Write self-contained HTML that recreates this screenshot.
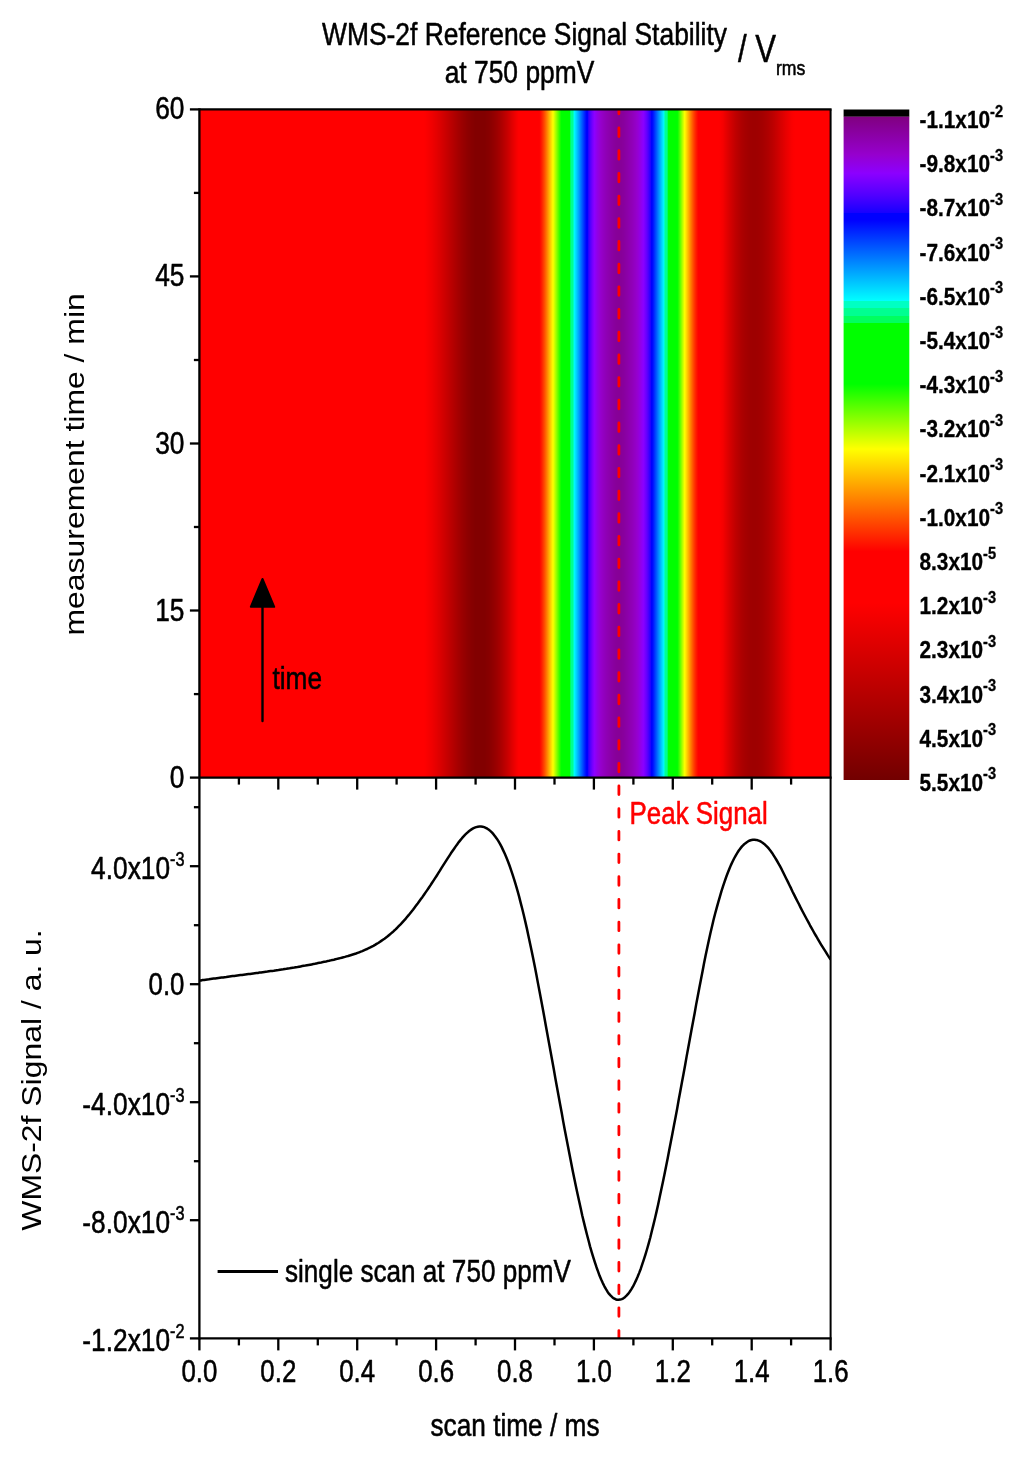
<!DOCTYPE html>
<html><head><meta charset="utf-8"><title>WMS-2f Reference Signal Stability</title>
<style>html,body{margin:0;padding:0;background:#fff}svg{display:block}</style></head>
<body>
<svg width="1024" height="1458" viewBox="0 0 1024 1458">
<defs>
<linearGradient id="hm" gradientUnits="userSpaceOnUse" x1="199.4" y1="0" x2="830.6" y2="0">
<stop offset="0.0000" stop-color="#ff0000"/>
<stop offset="0.0016" stop-color="#ff0000"/>
<stop offset="0.0032" stop-color="#ff0000"/>
<stop offset="0.0048" stop-color="#ff0000"/>
<stop offset="0.0063" stop-color="#ff0000"/>
<stop offset="0.0079" stop-color="#ff0000"/>
<stop offset="0.0095" stop-color="#ff0000"/>
<stop offset="0.0111" stop-color="#ff0000"/>
<stop offset="0.0127" stop-color="#ff0000"/>
<stop offset="0.0143" stop-color="#ff0000"/>
<stop offset="0.0158" stop-color="#ff0000"/>
<stop offset="0.0174" stop-color="#ff0000"/>
<stop offset="0.0190" stop-color="#ff0000"/>
<stop offset="0.0206" stop-color="#ff0000"/>
<stop offset="0.0222" stop-color="#ff0000"/>
<stop offset="0.0238" stop-color="#ff0000"/>
<stop offset="0.0254" stop-color="#ff0000"/>
<stop offset="0.0269" stop-color="#ff0000"/>
<stop offset="0.0285" stop-color="#ff0000"/>
<stop offset="0.0301" stop-color="#ff0000"/>
<stop offset="0.0317" stop-color="#ff0000"/>
<stop offset="0.0333" stop-color="#ff0000"/>
<stop offset="0.0349" stop-color="#ff0000"/>
<stop offset="0.0365" stop-color="#ff0000"/>
<stop offset="0.0380" stop-color="#ff0000"/>
<stop offset="0.0396" stop-color="#ff0000"/>
<stop offset="0.0412" stop-color="#ff0000"/>
<stop offset="0.0428" stop-color="#ff0000"/>
<stop offset="0.0444" stop-color="#ff0000"/>
<stop offset="0.0460" stop-color="#ff0000"/>
<stop offset="0.0475" stop-color="#ff0000"/>
<stop offset="0.0491" stop-color="#ff0000"/>
<stop offset="0.0507" stop-color="#ff0000"/>
<stop offset="0.0523" stop-color="#ff0000"/>
<stop offset="0.0539" stop-color="#ff0000"/>
<stop offset="0.0555" stop-color="#ff0000"/>
<stop offset="0.0571" stop-color="#ff0000"/>
<stop offset="0.0586" stop-color="#ff0000"/>
<stop offset="0.0602" stop-color="#ff0000"/>
<stop offset="0.0618" stop-color="#ff0000"/>
<stop offset="0.0634" stop-color="#ff0000"/>
<stop offset="0.0650" stop-color="#ff0000"/>
<stop offset="0.0666" stop-color="#ff0000"/>
<stop offset="0.0681" stop-color="#ff0000"/>
<stop offset="0.0697" stop-color="#ff0000"/>
<stop offset="0.0713" stop-color="#ff0000"/>
<stop offset="0.0729" stop-color="#ff0000"/>
<stop offset="0.0745" stop-color="#ff0000"/>
<stop offset="0.0761" stop-color="#ff0000"/>
<stop offset="0.0777" stop-color="#ff0000"/>
<stop offset="0.0792" stop-color="#ff0000"/>
<stop offset="0.0808" stop-color="#ff0000"/>
<stop offset="0.0824" stop-color="#ff0000"/>
<stop offset="0.0840" stop-color="#ff0000"/>
<stop offset="0.0856" stop-color="#ff0000"/>
<stop offset="0.0872" stop-color="#ff0000"/>
<stop offset="0.0887" stop-color="#ff0000"/>
<stop offset="0.0903" stop-color="#ff0000"/>
<stop offset="0.0919" stop-color="#ff0000"/>
<stop offset="0.0935" stop-color="#ff0000"/>
<stop offset="0.0951" stop-color="#ff0000"/>
<stop offset="0.0967" stop-color="#ff0000"/>
<stop offset="0.0983" stop-color="#ff0000"/>
<stop offset="0.0998" stop-color="#ff0000"/>
<stop offset="0.1014" stop-color="#ff0000"/>
<stop offset="0.1030" stop-color="#ff0000"/>
<stop offset="0.1046" stop-color="#ff0000"/>
<stop offset="0.1062" stop-color="#ff0000"/>
<stop offset="0.1078" stop-color="#ff0000"/>
<stop offset="0.1094" stop-color="#ff0000"/>
<stop offset="0.1109" stop-color="#ff0000"/>
<stop offset="0.1125" stop-color="#ff0000"/>
<stop offset="0.1141" stop-color="#ff0000"/>
<stop offset="0.1157" stop-color="#ff0000"/>
<stop offset="0.1173" stop-color="#ff0000"/>
<stop offset="0.1189" stop-color="#ff0000"/>
<stop offset="0.1204" stop-color="#ff0000"/>
<stop offset="0.1220" stop-color="#ff0000"/>
<stop offset="0.1236" stop-color="#ff0000"/>
<stop offset="0.1252" stop-color="#ff0000"/>
<stop offset="0.1268" stop-color="#ff0000"/>
<stop offset="0.1284" stop-color="#ff0000"/>
<stop offset="0.1300" stop-color="#ff0000"/>
<stop offset="0.1315" stop-color="#ff0000"/>
<stop offset="0.1331" stop-color="#ff0000"/>
<stop offset="0.1347" stop-color="#ff0000"/>
<stop offset="0.1363" stop-color="#ff0000"/>
<stop offset="0.1379" stop-color="#ff0000"/>
<stop offset="0.1395" stop-color="#ff0000"/>
<stop offset="0.1410" stop-color="#ff0000"/>
<stop offset="0.1426" stop-color="#ff0000"/>
<stop offset="0.1442" stop-color="#ff0000"/>
<stop offset="0.1458" stop-color="#ff0000"/>
<stop offset="0.1474" stop-color="#ff0000"/>
<stop offset="0.1490" stop-color="#ff0000"/>
<stop offset="0.1506" stop-color="#ff0000"/>
<stop offset="0.1521" stop-color="#ff0000"/>
<stop offset="0.1537" stop-color="#ff0000"/>
<stop offset="0.1553" stop-color="#ff0000"/>
<stop offset="0.1569" stop-color="#ff0000"/>
<stop offset="0.1585" stop-color="#ff0000"/>
<stop offset="0.1601" stop-color="#ff0000"/>
<stop offset="0.1616" stop-color="#ff0000"/>
<stop offset="0.1632" stop-color="#ff0000"/>
<stop offset="0.1648" stop-color="#ff0000"/>
<stop offset="0.1664" stop-color="#ff0000"/>
<stop offset="0.1680" stop-color="#ff0000"/>
<stop offset="0.1696" stop-color="#ff0000"/>
<stop offset="0.1712" stop-color="#ff0000"/>
<stop offset="0.1727" stop-color="#ff0000"/>
<stop offset="0.1743" stop-color="#ff0000"/>
<stop offset="0.1759" stop-color="#ff0000"/>
<stop offset="0.1775" stop-color="#ff0000"/>
<stop offset="0.1791" stop-color="#ff0000"/>
<stop offset="0.1807" stop-color="#ff0000"/>
<stop offset="0.1823" stop-color="#ff0000"/>
<stop offset="0.1838" stop-color="#ff0000"/>
<stop offset="0.1854" stop-color="#ff0000"/>
<stop offset="0.1870" stop-color="#ff0000"/>
<stop offset="0.1886" stop-color="#ff0000"/>
<stop offset="0.1902" stop-color="#ff0000"/>
<stop offset="0.1918" stop-color="#ff0000"/>
<stop offset="0.1933" stop-color="#ff0000"/>
<stop offset="0.1949" stop-color="#ff0000"/>
<stop offset="0.1965" stop-color="#ff0000"/>
<stop offset="0.1981" stop-color="#ff0000"/>
<stop offset="0.1997" stop-color="#ff0000"/>
<stop offset="0.2013" stop-color="#ff0000"/>
<stop offset="0.2029" stop-color="#ff0000"/>
<stop offset="0.2044" stop-color="#ff0000"/>
<stop offset="0.2060" stop-color="#ff0000"/>
<stop offset="0.2076" stop-color="#ff0000"/>
<stop offset="0.2092" stop-color="#ff0000"/>
<stop offset="0.2108" stop-color="#ff0000"/>
<stop offset="0.2124" stop-color="#ff0000"/>
<stop offset="0.2139" stop-color="#ff0000"/>
<stop offset="0.2155" stop-color="#ff0000"/>
<stop offset="0.2171" stop-color="#ff0000"/>
<stop offset="0.2187" stop-color="#ff0000"/>
<stop offset="0.2203" stop-color="#ff0000"/>
<stop offset="0.2219" stop-color="#ff0000"/>
<stop offset="0.2235" stop-color="#ff0000"/>
<stop offset="0.2250" stop-color="#ff0000"/>
<stop offset="0.2266" stop-color="#ff0000"/>
<stop offset="0.2282" stop-color="#ff0000"/>
<stop offset="0.2298" stop-color="#ff0000"/>
<stop offset="0.2314" stop-color="#ff0000"/>
<stop offset="0.2330" stop-color="#ff0000"/>
<stop offset="0.2345" stop-color="#ff0000"/>
<stop offset="0.2361" stop-color="#ff0000"/>
<stop offset="0.2377" stop-color="#ff0000"/>
<stop offset="0.2393" stop-color="#ff0000"/>
<stop offset="0.2409" stop-color="#ff0000"/>
<stop offset="0.2425" stop-color="#ff0000"/>
<stop offset="0.2441" stop-color="#ff0000"/>
<stop offset="0.2456" stop-color="#ff0000"/>
<stop offset="0.2472" stop-color="#ff0000"/>
<stop offset="0.2488" stop-color="#ff0000"/>
<stop offset="0.2504" stop-color="#ff0000"/>
<stop offset="0.2520" stop-color="#ff0000"/>
<stop offset="0.2536" stop-color="#ff0000"/>
<stop offset="0.2552" stop-color="#ff0000"/>
<stop offset="0.2567" stop-color="#ff0000"/>
<stop offset="0.2583" stop-color="#ff0000"/>
<stop offset="0.2599" stop-color="#ff0000"/>
<stop offset="0.2615" stop-color="#ff0000"/>
<stop offset="0.2631" stop-color="#ff0000"/>
<stop offset="0.2647" stop-color="#ff0000"/>
<stop offset="0.2662" stop-color="#ff0000"/>
<stop offset="0.2678" stop-color="#ff0000"/>
<stop offset="0.2694" stop-color="#ff0000"/>
<stop offset="0.2710" stop-color="#ff0000"/>
<stop offset="0.2726" stop-color="#ff0000"/>
<stop offset="0.2742" stop-color="#ff0000"/>
<stop offset="0.2758" stop-color="#ff0000"/>
<stop offset="0.2773" stop-color="#ff0000"/>
<stop offset="0.2789" stop-color="#ff0000"/>
<stop offset="0.2805" stop-color="#ff0000"/>
<stop offset="0.2821" stop-color="#ff0000"/>
<stop offset="0.2837" stop-color="#ff0000"/>
<stop offset="0.2853" stop-color="#ff0000"/>
<stop offset="0.2868" stop-color="#ff0000"/>
<stop offset="0.2884" stop-color="#ff0000"/>
<stop offset="0.2900" stop-color="#ff0000"/>
<stop offset="0.2916" stop-color="#ff0000"/>
<stop offset="0.2932" stop-color="#ff0000"/>
<stop offset="0.2948" stop-color="#ff0000"/>
<stop offset="0.2964" stop-color="#ff0000"/>
<stop offset="0.2979" stop-color="#ff0000"/>
<stop offset="0.2995" stop-color="#ff0000"/>
<stop offset="0.3011" stop-color="#ff0000"/>
<stop offset="0.3027" stop-color="#ff0000"/>
<stop offset="0.3043" stop-color="#ff0000"/>
<stop offset="0.3059" stop-color="#ff0000"/>
<stop offset="0.3074" stop-color="#ff0000"/>
<stop offset="0.3090" stop-color="#ff0000"/>
<stop offset="0.3106" stop-color="#ff0000"/>
<stop offset="0.3122" stop-color="#ff0000"/>
<stop offset="0.3138" stop-color="#ff0000"/>
<stop offset="0.3154" stop-color="#ff0000"/>
<stop offset="0.3170" stop-color="#ff0000"/>
<stop offset="0.3185" stop-color="#ff0000"/>
<stop offset="0.3201" stop-color="#ff0000"/>
<stop offset="0.3217" stop-color="#ff0000"/>
<stop offset="0.3233" stop-color="#ff0000"/>
<stop offset="0.3249" stop-color="#ff0000"/>
<stop offset="0.3265" stop-color="#ff0000"/>
<stop offset="0.3281" stop-color="#ff0000"/>
<stop offset="0.3296" stop-color="#ff0000"/>
<stop offset="0.3312" stop-color="#ff0000"/>
<stop offset="0.3328" stop-color="#ff0000"/>
<stop offset="0.3344" stop-color="#ff0000"/>
<stop offset="0.3360" stop-color="#ff0000"/>
<stop offset="0.3376" stop-color="#ff0000"/>
<stop offset="0.3391" stop-color="#ff0000"/>
<stop offset="0.3407" stop-color="#ff0000"/>
<stop offset="0.3423" stop-color="#ff0000"/>
<stop offset="0.3439" stop-color="#ff0000"/>
<stop offset="0.3455" stop-color="#ff0000"/>
<stop offset="0.3471" stop-color="#ff0000"/>
<stop offset="0.3487" stop-color="#ff0000"/>
<stop offset="0.3502" stop-color="#ff0000"/>
<stop offset="0.3518" stop-color="#ff0000"/>
<stop offset="0.3534" stop-color="#ff0000"/>
<stop offset="0.3550" stop-color="#ff0000"/>
<stop offset="0.3566" stop-color="#fe0000"/>
<stop offset="0.3582" stop-color="#fd0000"/>
<stop offset="0.3597" stop-color="#fb0000"/>
<stop offset="0.3613" stop-color="#f90000"/>
<stop offset="0.3629" stop-color="#f70000"/>
<stop offset="0.3645" stop-color="#f50000"/>
<stop offset="0.3661" stop-color="#f30000"/>
<stop offset="0.3677" stop-color="#f10000"/>
<stop offset="0.3693" stop-color="#ef0000"/>
<stop offset="0.3708" stop-color="#ec0000"/>
<stop offset="0.3724" stop-color="#ea0000"/>
<stop offset="0.3740" stop-color="#e70000"/>
<stop offset="0.3756" stop-color="#e50000"/>
<stop offset="0.3772" stop-color="#e20000"/>
<stop offset="0.3788" stop-color="#df0000"/>
<stop offset="0.3803" stop-color="#dd0000"/>
<stop offset="0.3819" stop-color="#da0000"/>
<stop offset="0.3835" stop-color="#d70000"/>
<stop offset="0.3851" stop-color="#d40000"/>
<stop offset="0.3867" stop-color="#d10000"/>
<stop offset="0.3883" stop-color="#ce0000"/>
<stop offset="0.3899" stop-color="#cb0000"/>
<stop offset="0.3914" stop-color="#c80000"/>
<stop offset="0.3930" stop-color="#c50000"/>
<stop offset="0.3946" stop-color="#c20000"/>
<stop offset="0.3962" stop-color="#bf0000"/>
<stop offset="0.3978" stop-color="#bc0000"/>
<stop offset="0.3994" stop-color="#b90000"/>
<stop offset="0.4010" stop-color="#b60000"/>
<stop offset="0.4025" stop-color="#b30000"/>
<stop offset="0.4041" stop-color="#b00000"/>
<stop offset="0.4057" stop-color="#ad0000"/>
<stop offset="0.4073" stop-color="#aa0000"/>
<stop offset="0.4089" stop-color="#a70000"/>
<stop offset="0.4105" stop-color="#a40000"/>
<stop offset="0.4120" stop-color="#a20000"/>
<stop offset="0.4136" stop-color="#9f0000"/>
<stop offset="0.4152" stop-color="#9c0000"/>
<stop offset="0.4168" stop-color="#9a0000"/>
<stop offset="0.4184" stop-color="#970000"/>
<stop offset="0.4200" stop-color="#950000"/>
<stop offset="0.4216" stop-color="#930000"/>
<stop offset="0.4231" stop-color="#900000"/>
<stop offset="0.4247" stop-color="#8e0000"/>
<stop offset="0.4263" stop-color="#8c0000"/>
<stop offset="0.4279" stop-color="#8b0000"/>
<stop offset="0.4295" stop-color="#890000"/>
<stop offset="0.4311" stop-color="#870000"/>
<stop offset="0.4326" stop-color="#860000"/>
<stop offset="0.4342" stop-color="#850000"/>
<stop offset="0.4358" stop-color="#830000"/>
<stop offset="0.4374" stop-color="#820000"/>
<stop offset="0.4390" stop-color="#820000"/>
<stop offset="0.4406" stop-color="#820000"/>
<stop offset="0.4422" stop-color="#820000"/>
<stop offset="0.4437" stop-color="#820000"/>
<stop offset="0.4453" stop-color="#820000"/>
<stop offset="0.4469" stop-color="#820000"/>
<stop offset="0.4485" stop-color="#820000"/>
<stop offset="0.4501" stop-color="#820000"/>
<stop offset="0.4517" stop-color="#820000"/>
<stop offset="0.4532" stop-color="#830000"/>
<stop offset="0.4548" stop-color="#850000"/>
<stop offset="0.4564" stop-color="#860000"/>
<stop offset="0.4580" stop-color="#870000"/>
<stop offset="0.4596" stop-color="#890000"/>
<stop offset="0.4612" stop-color="#8b0000"/>
<stop offset="0.4628" stop-color="#8d0000"/>
<stop offset="0.4643" stop-color="#900000"/>
<stop offset="0.4659" stop-color="#920000"/>
<stop offset="0.4675" stop-color="#950000"/>
<stop offset="0.4691" stop-color="#980000"/>
<stop offset="0.4707" stop-color="#9b0000"/>
<stop offset="0.4723" stop-color="#9e0000"/>
<stop offset="0.4739" stop-color="#a20000"/>
<stop offset="0.4754" stop-color="#a50000"/>
<stop offset="0.4770" stop-color="#a90000"/>
<stop offset="0.4786" stop-color="#ad0000"/>
<stop offset="0.4802" stop-color="#b10000"/>
<stop offset="0.4818" stop-color="#b60000"/>
<stop offset="0.4834" stop-color="#ba0000"/>
<stop offset="0.4849" stop-color="#bf0000"/>
<stop offset="0.4865" stop-color="#c30000"/>
<stop offset="0.4881" stop-color="#c80000"/>
<stop offset="0.4897" stop-color="#cd0000"/>
<stop offset="0.4913" stop-color="#d20000"/>
<stop offset="0.4929" stop-color="#d70000"/>
<stop offset="0.4945" stop-color="#dd0000"/>
<stop offset="0.4960" stop-color="#e20000"/>
<stop offset="0.4976" stop-color="#e70000"/>
<stop offset="0.4992" stop-color="#ec0000"/>
<stop offset="0.5008" stop-color="#f10000"/>
<stop offset="0.5024" stop-color="#f60000"/>
<stop offset="0.5040" stop-color="#fa0000"/>
<stop offset="0.5055" stop-color="#fe0000"/>
<stop offset="0.5071" stop-color="#ff0000"/>
<stop offset="0.5087" stop-color="#ff0000"/>
<stop offset="0.5103" stop-color="#ff0000"/>
<stop offset="0.5119" stop-color="#ff0000"/>
<stop offset="0.5135" stop-color="#ff0000"/>
<stop offset="0.5151" stop-color="#ff0000"/>
<stop offset="0.5166" stop-color="#ff0000"/>
<stop offset="0.5182" stop-color="#ff0000"/>
<stop offset="0.5198" stop-color="#ff0000"/>
<stop offset="0.5214" stop-color="#ff0000"/>
<stop offset="0.5230" stop-color="#ff0000"/>
<stop offset="0.5246" stop-color="#ff0000"/>
<stop offset="0.5261" stop-color="#ff0000"/>
<stop offset="0.5277" stop-color="#ff0000"/>
<stop offset="0.5293" stop-color="#ff0000"/>
<stop offset="0.5309" stop-color="#ff0000"/>
<stop offset="0.5325" stop-color="#ff0000"/>
<stop offset="0.5341" stop-color="#ff0000"/>
<stop offset="0.5357" stop-color="#ff0000"/>
<stop offset="0.5372" stop-color="#ff0000"/>
<stop offset="0.5388" stop-color="#ff0200"/>
<stop offset="0.5404" stop-color="#ff0d00"/>
<stop offset="0.5420" stop-color="#ff1b00"/>
<stop offset="0.5436" stop-color="#ff2b00"/>
<stop offset="0.5452" stop-color="#ff3c00"/>
<stop offset="0.5468" stop-color="#ff4e00"/>
<stop offset="0.5483" stop-color="#ff6200"/>
<stop offset="0.5499" stop-color="#ff7700"/>
<stop offset="0.5515" stop-color="#ff8c00"/>
<stop offset="0.5531" stop-color="#ffa200"/>
<stop offset="0.5547" stop-color="#ffb700"/>
<stop offset="0.5563" stop-color="#ffcc00"/>
<stop offset="0.5578" stop-color="#ffe100"/>
<stop offset="0.5594" stop-color="#fff600"/>
<stop offset="0.5610" stop-color="#efff00"/>
<stop offset="0.5626" stop-color="#d1ff00"/>
<stop offset="0.5642" stop-color="#b1ff00"/>
<stop offset="0.5658" stop-color="#92ff00"/>
<stop offset="0.5674" stop-color="#72ff00"/>
<stop offset="0.5689" stop-color="#53ff00"/>
<stop offset="0.5705" stop-color="#34ff00"/>
<stop offset="0.5721" stop-color="#16ff00"/>
<stop offset="0.5737" stop-color="#00ff00"/>
<stop offset="0.5753" stop-color="#00ff00"/>
<stop offset="0.5769" stop-color="#00ff00"/>
<stop offset="0.5784" stop-color="#00ff00"/>
<stop offset="0.5800" stop-color="#00ff00"/>
<stop offset="0.5816" stop-color="#00ff00"/>
<stop offset="0.5832" stop-color="#00ff00"/>
<stop offset="0.5848" stop-color="#00ff00"/>
<stop offset="0.5864" stop-color="#00ff00"/>
<stop offset="0.5880" stop-color="#00ff5f"/>
<stop offset="0.5895" stop-color="#00ff91"/>
<stop offset="0.5911" stop-color="#00ff91"/>
<stop offset="0.5927" stop-color="#00ffc3"/>
<stop offset="0.5943" stop-color="#00f6ff"/>
<stop offset="0.5959" stop-color="#00e2ff"/>
<stop offset="0.5975" stop-color="#00cfff"/>
<stop offset="0.5990" stop-color="#00baff"/>
<stop offset="0.6006" stop-color="#00a6ff"/>
<stop offset="0.6022" stop-color="#0091ff"/>
<stop offset="0.6038" stop-color="#007bff"/>
<stop offset="0.6054" stop-color="#0066ff"/>
<stop offset="0.6070" stop-color="#0051ff"/>
<stop offset="0.6086" stop-color="#003cff"/>
<stop offset="0.6101" stop-color="#0027ff"/>
<stop offset="0.6117" stop-color="#0013ff"/>
<stop offset="0.6133" stop-color="#0000ff"/>
<stop offset="0.6149" stop-color="#0000ff"/>
<stop offset="0.6165" stop-color="#2a00ff"/>
<stop offset="0.6181" stop-color="#4000ff"/>
<stop offset="0.6197" stop-color="#5400ff"/>
<stop offset="0.6212" stop-color="#6400ff"/>
<stop offset="0.6228" stop-color="#7400ff"/>
<stop offset="0.6244" stop-color="#8100ff"/>
<stop offset="0.6260" stop-color="#8c00ff"/>
<stop offset="0.6276" stop-color="#8e00f6"/>
<stop offset="0.6292" stop-color="#9000ed"/>
<stop offset="0.6307" stop-color="#9100e4"/>
<stop offset="0.6323" stop-color="#9300dd"/>
<stop offset="0.6339" stop-color="#9400d5"/>
<stop offset="0.6355" stop-color="#9600ce"/>
<stop offset="0.6371" stop-color="#9500c9"/>
<stop offset="0.6387" stop-color="#9400c4"/>
<stop offset="0.6403" stop-color="#9200c0"/>
<stop offset="0.6418" stop-color="#9100bc"/>
<stop offset="0.6434" stop-color="#9000b8"/>
<stop offset="0.6450" stop-color="#8f00b4"/>
<stop offset="0.6466" stop-color="#8e00b1"/>
<stop offset="0.6482" stop-color="#8d00ae"/>
<stop offset="0.6498" stop-color="#8c00ab"/>
<stop offset="0.6513" stop-color="#8b00a8"/>
<stop offset="0.6529" stop-color="#8a00a5"/>
<stop offset="0.6545" stop-color="#8a00a2"/>
<stop offset="0.6561" stop-color="#89009f"/>
<stop offset="0.6577" stop-color="#88009d"/>
<stop offset="0.6593" stop-color="#88009a"/>
<stop offset="0.6609" stop-color="#870099"/>
<stop offset="0.6624" stop-color="#870098"/>
<stop offset="0.6640" stop-color="#870097"/>
<stop offset="0.6656" stop-color="#870097"/>
<stop offset="0.6672" stop-color="#870098"/>
<stop offset="0.6688" stop-color="#870099"/>
<stop offset="0.6704" stop-color="#88009b"/>
<stop offset="0.6719" stop-color="#88009d"/>
<stop offset="0.6735" stop-color="#8900a0"/>
<stop offset="0.6751" stop-color="#8a00a3"/>
<stop offset="0.6767" stop-color="#8b00a6"/>
<stop offset="0.6783" stop-color="#8c00a9"/>
<stop offset="0.6799" stop-color="#8d00ad"/>
<stop offset="0.6815" stop-color="#8e00b0"/>
<stop offset="0.6830" stop-color="#8f00b3"/>
<stop offset="0.6846" stop-color="#9000b6"/>
<stop offset="0.6862" stop-color="#9100ba"/>
<stop offset="0.6878" stop-color="#9200be"/>
<stop offset="0.6894" stop-color="#9300c3"/>
<stop offset="0.6910" stop-color="#9400c7"/>
<stop offset="0.6926" stop-color="#9600cc"/>
<stop offset="0.6941" stop-color="#9500d2"/>
<stop offset="0.6957" stop-color="#9400d9"/>
<stop offset="0.6973" stop-color="#9200e1"/>
<stop offset="0.6989" stop-color="#9100e8"/>
<stop offset="0.7005" stop-color="#8f00f1"/>
<stop offset="0.7021" stop-color="#8d00f9"/>
<stop offset="0.7036" stop-color="#8900ff"/>
<stop offset="0.7052" stop-color="#7e00ff"/>
<stop offset="0.7068" stop-color="#7200ff"/>
<stop offset="0.7084" stop-color="#6500ff"/>
<stop offset="0.7100" stop-color="#5600ff"/>
<stop offset="0.7116" stop-color="#4500ff"/>
<stop offset="0.7132" stop-color="#3200ff"/>
<stop offset="0.7147" stop-color="#1f00ff"/>
<stop offset="0.7163" stop-color="#0000ff"/>
<stop offset="0.7179" stop-color="#0008ff"/>
<stop offset="0.7195" stop-color="#001bff"/>
<stop offset="0.7211" stop-color="#0030ff"/>
<stop offset="0.7227" stop-color="#0046ff"/>
<stop offset="0.7242" stop-color="#005bff"/>
<stop offset="0.7258" stop-color="#0072ff"/>
<stop offset="0.7274" stop-color="#0088ff"/>
<stop offset="0.7290" stop-color="#009eff"/>
<stop offset="0.7306" stop-color="#00b4ff"/>
<stop offset="0.7322" stop-color="#00caff"/>
<stop offset="0.7338" stop-color="#00dfff"/>
<stop offset="0.7353" stop-color="#00f3ff"/>
<stop offset="0.7369" stop-color="#00ffc3"/>
<stop offset="0.7385" stop-color="#00ff91"/>
<stop offset="0.7401" stop-color="#00ff91"/>
<stop offset="0.7417" stop-color="#00ff5f"/>
<stop offset="0.7433" stop-color="#00ff00"/>
<stop offset="0.7448" stop-color="#00ff00"/>
<stop offset="0.7464" stop-color="#00ff00"/>
<stop offset="0.7480" stop-color="#00ff00"/>
<stop offset="0.7496" stop-color="#00ff00"/>
<stop offset="0.7512" stop-color="#00ff00"/>
<stop offset="0.7528" stop-color="#00ff00"/>
<stop offset="0.7544" stop-color="#00ff00"/>
<stop offset="0.7559" stop-color="#00ff00"/>
<stop offset="0.7575" stop-color="#05ff00"/>
<stop offset="0.7591" stop-color="#24ff00"/>
<stop offset="0.7607" stop-color="#47ff00"/>
<stop offset="0.7623" stop-color="#6bff00"/>
<stop offset="0.7639" stop-color="#90ff00"/>
<stop offset="0.7655" stop-color="#b5ff00"/>
<stop offset="0.7670" stop-color="#d8ff00"/>
<stop offset="0.7686" stop-color="#faff00"/>
<stop offset="0.7702" stop-color="#ffed00"/>
<stop offset="0.7718" stop-color="#ffd800"/>
<stop offset="0.7734" stop-color="#ffc200"/>
<stop offset="0.7750" stop-color="#ffad00"/>
<stop offset="0.7765" stop-color="#ff9700"/>
<stop offset="0.7781" stop-color="#ff8200"/>
<stop offset="0.7797" stop-color="#ff6d00"/>
<stop offset="0.7813" stop-color="#ff5900"/>
<stop offset="0.7829" stop-color="#ff4600"/>
<stop offset="0.7845" stop-color="#ff3400"/>
<stop offset="0.7861" stop-color="#ff2400"/>
<stop offset="0.7876" stop-color="#ff1600"/>
<stop offset="0.7892" stop-color="#ff0900"/>
<stop offset="0.7908" stop-color="#ff0000"/>
<stop offset="0.7924" stop-color="#ff0000"/>
<stop offset="0.7940" stop-color="#ff0000"/>
<stop offset="0.7956" stop-color="#ff0000"/>
<stop offset="0.7971" stop-color="#ff0000"/>
<stop offset="0.7987" stop-color="#ff0000"/>
<stop offset="0.8003" stop-color="#ff0000"/>
<stop offset="0.8019" stop-color="#ff0000"/>
<stop offset="0.8035" stop-color="#ff0000"/>
<stop offset="0.8051" stop-color="#ff0000"/>
<stop offset="0.8067" stop-color="#ff0000"/>
<stop offset="0.8082" stop-color="#ff0000"/>
<stop offset="0.8098" stop-color="#ff0000"/>
<stop offset="0.8114" stop-color="#ff0000"/>
<stop offset="0.8130" stop-color="#ff0000"/>
<stop offset="0.8146" stop-color="#ff0000"/>
<stop offset="0.8162" stop-color="#ff0000"/>
<stop offset="0.8177" stop-color="#ff0000"/>
<stop offset="0.8193" stop-color="#ff0000"/>
<stop offset="0.8209" stop-color="#ff0000"/>
<stop offset="0.8225" stop-color="#ff0000"/>
<stop offset="0.8241" stop-color="#fe0000"/>
<stop offset="0.8257" stop-color="#fc0000"/>
<stop offset="0.8273" stop-color="#f90000"/>
<stop offset="0.8288" stop-color="#f70000"/>
<stop offset="0.8304" stop-color="#f30000"/>
<stop offset="0.8320" stop-color="#ee0000"/>
<stop offset="0.8336" stop-color="#e90000"/>
<stop offset="0.8352" stop-color="#e50000"/>
<stop offset="0.8368" stop-color="#e00000"/>
<stop offset="0.8384" stop-color="#dc0000"/>
<stop offset="0.8399" stop-color="#d70000"/>
<stop offset="0.8415" stop-color="#d30000"/>
<stop offset="0.8431" stop-color="#cf0000"/>
<stop offset="0.8447" stop-color="#cb0000"/>
<stop offset="0.8463" stop-color="#c70000"/>
<stop offset="0.8479" stop-color="#c30000"/>
<stop offset="0.8494" stop-color="#bf0000"/>
<stop offset="0.8510" stop-color="#bc0000"/>
<stop offset="0.8526" stop-color="#b90000"/>
<stop offset="0.8542" stop-color="#b60000"/>
<stop offset="0.8558" stop-color="#b30000"/>
<stop offset="0.8574" stop-color="#b00000"/>
<stop offset="0.8590" stop-color="#ad0000"/>
<stop offset="0.8605" stop-color="#ab0000"/>
<stop offset="0.8621" stop-color="#a90000"/>
<stop offset="0.8637" stop-color="#a70000"/>
<stop offset="0.8653" stop-color="#a50000"/>
<stop offset="0.8669" stop-color="#a40000"/>
<stop offset="0.8685" stop-color="#a20000"/>
<stop offset="0.8700" stop-color="#a10000"/>
<stop offset="0.8716" stop-color="#a00000"/>
<stop offset="0.8732" stop-color="#9f0000"/>
<stop offset="0.8748" stop-color="#9f0000"/>
<stop offset="0.8764" stop-color="#9e0000"/>
<stop offset="0.8780" stop-color="#9e0000"/>
<stop offset="0.8796" stop-color="#9e0000"/>
<stop offset="0.8811" stop-color="#9e0000"/>
<stop offset="0.8827" stop-color="#9f0000"/>
<stop offset="0.8843" stop-color="#9f0000"/>
<stop offset="0.8859" stop-color="#a00000"/>
<stop offset="0.8875" stop-color="#a10000"/>
<stop offset="0.8891" stop-color="#a20000"/>
<stop offset="0.8906" stop-color="#a30000"/>
<stop offset="0.8922" stop-color="#a40000"/>
<stop offset="0.8938" stop-color="#a60000"/>
<stop offset="0.8954" stop-color="#a80000"/>
<stop offset="0.8970" stop-color="#aa0000"/>
<stop offset="0.8986" stop-color="#ac0000"/>
<stop offset="0.9002" stop-color="#ae0000"/>
<stop offset="0.9017" stop-color="#b00000"/>
<stop offset="0.9033" stop-color="#b30000"/>
<stop offset="0.9049" stop-color="#b60000"/>
<stop offset="0.9065" stop-color="#b80000"/>
<stop offset="0.9081" stop-color="#bb0000"/>
<stop offset="0.9097" stop-color="#be0000"/>
<stop offset="0.9113" stop-color="#c10000"/>
<stop offset="0.9128" stop-color="#c50000"/>
<stop offset="0.9144" stop-color="#c80000"/>
<stop offset="0.9160" stop-color="#cb0000"/>
<stop offset="0.9176" stop-color="#cf0000"/>
<stop offset="0.9192" stop-color="#d20000"/>
<stop offset="0.9208" stop-color="#d60000"/>
<stop offset="0.9223" stop-color="#d90000"/>
<stop offset="0.9239" stop-color="#dc0000"/>
<stop offset="0.9255" stop-color="#e00000"/>
<stop offset="0.9271" stop-color="#e30000"/>
<stop offset="0.9287" stop-color="#e70000"/>
<stop offset="0.9303" stop-color="#ea0000"/>
<stop offset="0.9319" stop-color="#ed0000"/>
<stop offset="0.9334" stop-color="#f00000"/>
<stop offset="0.9350" stop-color="#f30000"/>
<stop offset="0.9366" stop-color="#f60000"/>
<stop offset="0.9382" stop-color="#f90000"/>
<stop offset="0.9398" stop-color="#fb0000"/>
<stop offset="0.9414" stop-color="#fd0000"/>
<stop offset="0.9429" stop-color="#fe0000"/>
<stop offset="0.9445" stop-color="#ff0000"/>
<stop offset="0.9461" stop-color="#ff0000"/>
<stop offset="0.9477" stop-color="#ff0000"/>
<stop offset="0.9493" stop-color="#ff0000"/>
<stop offset="0.9509" stop-color="#ff0000"/>
<stop offset="0.9525" stop-color="#ff0000"/>
<stop offset="0.9540" stop-color="#ff0000"/>
<stop offset="0.9556" stop-color="#ff0000"/>
<stop offset="0.9572" stop-color="#ff0000"/>
<stop offset="0.9588" stop-color="#ff0000"/>
<stop offset="0.9604" stop-color="#ff0000"/>
<stop offset="0.9620" stop-color="#ff0000"/>
<stop offset="0.9635" stop-color="#ff0000"/>
<stop offset="0.9651" stop-color="#ff0000"/>
<stop offset="0.9667" stop-color="#ff0000"/>
<stop offset="0.9683" stop-color="#ff0000"/>
<stop offset="0.9699" stop-color="#ff0000"/>
<stop offset="0.9715" stop-color="#ff0000"/>
<stop offset="0.9731" stop-color="#ff0000"/>
<stop offset="0.9746" stop-color="#ff0000"/>
<stop offset="0.9762" stop-color="#ff0000"/>
<stop offset="0.9778" stop-color="#ff0000"/>
<stop offset="0.9794" stop-color="#ff0000"/>
<stop offset="0.9810" stop-color="#ff0000"/>
<stop offset="0.9826" stop-color="#ff0000"/>
<stop offset="0.9842" stop-color="#ff0000"/>
<stop offset="0.9857" stop-color="#ff0000"/>
<stop offset="0.9873" stop-color="#ff0000"/>
<stop offset="0.9889" stop-color="#ff0000"/>
<stop offset="0.9905" stop-color="#ff0000"/>
<stop offset="0.9921" stop-color="#ff0000"/>
<stop offset="0.9937" stop-color="#ff0000"/>
<stop offset="0.9952" stop-color="#ff0000"/>
<stop offset="0.9968" stop-color="#ff0000"/>
<stop offset="0.9984" stop-color="#ff0000"/>
<stop offset="1.0000" stop-color="#ff0000"/>
</linearGradient>
<linearGradient id="cb" gradientUnits="userSpaceOnUse" x1="0" y1="116.7" x2="0" y2="780.0">
<stop offset="0.00000" stop-color="#800080"/>
<stop offset="0.05684" stop-color="#9600cd"/>
<stop offset="0.08533" stop-color="#8c00ff"/>
<stop offset="0.11880" stop-color="#5000ff"/>
<stop offset="0.14458" stop-color="#1800ff"/>
<stop offset="0.14458" stop-color="#0000ff"/>
<stop offset="0.15543" stop-color="#0000ff"/>
<stop offset="0.27770" stop-color="#00ffff"/>
<stop offset="0.27770" stop-color="#00ffc3"/>
<stop offset="0.28886" stop-color="#00ffc3"/>
<stop offset="0.28886" stop-color="#00ff91"/>
<stop offset="0.29986" stop-color="#00ff91"/>
<stop offset="0.29986" stop-color="#00ff5f"/>
<stop offset="0.31102" stop-color="#00ff5f"/>
<stop offset="0.31102" stop-color="#00ff00"/>
<stop offset="0.40299" stop-color="#00ff00"/>
<stop offset="0.50098" stop-color="#ffff00"/>
<stop offset="0.65551" stop-color="#ff0000"/>
<stop offset="0.73315" stop-color="#ff0000"/>
<stop offset="1.00000" stop-color="#720000"/>
</linearGradient>
<clipPath id="cp"><rect x="199.4" y="109.4" width="631.2" height="1229.0"/></clipPath>
</defs>
<rect width="1024" height="1458" fill="#fff"/>
<rect x="199.4" y="109.4" width="631.2" height="668.2" fill="url(#hm)"/>
<rect x="843.6" y="109.5" width="65.7" height="7.3" fill="#000"/>
<rect x="843.6" y="116.7" width="65.7" height="663.3" fill="url(#cb)"/>
<g clip-path="url(#cp)"><line x1="618.9" x2="618.9" y1="105.3" y2="1340" stroke="#ff0000" stroke-width="2.8" stroke-linecap="round" stroke-dasharray="8.5 14.19"/></g>
<path d="M199.4 980.6 L201.0 980.4 L202.6 980.1 L204.1 979.9 L205.7 979.7 L207.3 979.5 L208.9 979.3 L210.5 979.0 L212.1 978.8 L213.6 978.6 L215.2 978.4 L216.8 978.2 L218.4 978.0 L220.0 977.8 L221.5 977.6 L223.1 977.4 L224.7 977.2 L226.3 977.0 L227.9 976.7 L229.5 976.5 L231.0 976.3 L232.6 976.1 L234.2 975.9 L235.8 975.7 L237.4 975.5 L238.9 975.3 L240.5 975.1 L242.1 974.9 L243.7 974.7 L245.3 974.5 L246.9 974.3 L248.4 974.1 L250.0 973.9 L251.6 973.7 L253.2 973.5 L254.8 973.3 L256.4 973.1 L257.9 972.9 L259.5 972.6 L261.1 972.4 L262.7 972.2 L264.3 972.0 L265.8 971.8 L267.4 971.6 L269.0 971.3 L270.6 971.1 L272.2 970.9 L273.8 970.7 L275.3 970.4 L276.9 970.2 L278.5 970.0 L280.1 969.7 L281.7 969.5 L283.2 969.3 L284.8 969.0 L286.4 968.8 L288.0 968.5 L289.6 968.3 L291.2 968.0 L292.7 967.7 L294.3 967.5 L295.9 967.2 L297.5 967.0 L299.1 966.7 L300.6 966.4 L302.2 966.1 L303.8 965.8 L305.4 965.6 L307.0 965.3 L308.6 965.0 L310.1 964.7 L311.7 964.4 L313.3 964.1 L314.9 963.8 L316.5 963.4 L318.0 963.1 L319.6 962.8 L321.2 962.5 L322.8 962.1 L324.4 961.8 L326.0 961.5 L327.5 961.1 L329.1 960.8 L330.7 960.4 L332.3 960.0 L333.9 959.7 L335.4 959.3 L337.0 958.9 L338.6 958.5 L340.2 958.1 L341.8 957.7 L343.4 957.3 L344.9 956.9 L346.5 956.4 L348.1 956.0 L349.7 955.5 L351.3 955.0 L352.8 954.5 L354.4 954.0 L356.0 953.5 L357.6 952.9 L359.2 952.3 L360.8 951.7 L362.3 951.1 L363.9 950.4 L365.5 949.7 L367.1 949.0 L368.7 948.2 L370.3 947.4 L371.8 946.6 L373.4 945.8 L375.0 944.9 L376.6 943.9 L378.2 943.0 L379.7 942.0 L381.3 940.9 L382.9 939.8 L384.5 938.7 L386.1 937.5 L387.7 936.3 L389.2 935.0 L390.8 933.6 L392.4 932.3 L394.0 930.8 L395.6 929.4 L397.1 927.8 L398.7 926.2 L400.3 924.6 L401.9 922.9 L403.5 921.1 L405.1 919.4 L406.6 917.5 L408.2 915.6 L409.8 913.7 L411.4 911.7 L413.0 909.7 L414.5 907.7 L416.1 905.6 L417.7 903.5 L419.3 901.3 L420.9 899.1 L422.5 896.9 L424.0 894.7 L425.6 892.4 L427.2 890.1 L428.8 887.7 L430.4 885.4 L431.9 883.0 L433.5 880.6 L435.1 878.1 L436.7 875.7 L438.3 873.2 L439.9 870.7 L441.4 868.2 L443.0 865.7 L444.6 863.2 L446.2 860.7 L447.8 858.2 L449.3 855.8 L450.9 853.3 L452.5 851.0 L454.1 848.7 L455.7 846.4 L457.3 844.2 L458.8 842.1 L460.4 840.1 L462.0 838.2 L463.6 836.4 L465.2 834.7 L466.8 833.2 L468.3 831.8 L469.9 830.5 L471.5 829.4 L473.1 828.4 L474.7 827.7 L476.2 827.1 L477.8 826.7 L479.4 826.5 L481.0 826.5 L482.6 826.7 L484.2 827.1 L485.7 827.8 L487.3 828.7 L488.9 829.8 L490.5 831.1 L492.1 832.7 L493.6 834.4 L495.2 836.5 L496.8 838.7 L498.4 841.2 L500.0 843.9 L501.6 846.9 L503.1 850.1 L504.7 853.6 L506.3 857.3 L507.9 861.3 L509.5 865.5 L511.0 869.9 L512.6 874.6 L514.2 879.6 L515.8 884.9 L517.4 890.3 L519.0 896.1 L520.5 902.1 L522.1 908.3 L523.7 914.8 L525.3 921.6 L526.9 928.6 L528.4 935.8 L530.0 943.2 L531.6 950.8 L533.2 958.6 L534.8 966.6 L536.4 974.7 L537.9 982.9 L539.5 991.3 L541.1 999.7 L542.7 1008.3 L544.3 1016.9 L545.8 1025.5 L547.4 1034.2 L549.0 1043.0 L550.6 1051.7 L552.2 1060.5 L553.8 1069.3 L555.3 1078.0 L556.9 1086.8 L558.5 1095.5 L560.1 1104.2 L561.7 1112.8 L563.2 1121.4 L564.8 1129.9 L566.4 1138.3 L568.0 1146.6 L569.6 1154.8 L571.2 1162.9 L572.7 1170.8 L574.3 1178.6 L575.9 1186.3 L577.5 1193.8 L579.1 1201.1 L580.7 1208.2 L582.2 1215.2 L583.8 1221.9 L585.4 1228.4 L587.0 1234.7 L588.6 1240.8 L590.1 1246.6 L591.7 1252.1 L593.3 1257.4 L594.9 1262.4 L596.5 1267.2 L598.1 1271.6 L599.6 1275.8 L601.2 1279.6 L602.8 1283.1 L604.4 1286.3 L606.0 1289.2 L607.5 1291.7 L609.1 1293.9 L610.7 1295.7 L612.3 1297.2 L613.9 1298.4 L615.5 1299.2 L617.0 1299.7 L618.6 1299.8 L620.2 1299.6 L621.8 1299.1 L623.4 1298.3 L624.9 1297.2 L626.5 1295.7 L628.1 1293.9 L629.7 1291.8 L631.3 1289.4 L632.9 1286.7 L634.4 1283.7 L636.0 1280.4 L637.6 1276.8 L639.2 1272.9 L640.8 1268.7 L642.3 1264.2 L643.9 1259.4 L645.5 1254.3 L647.1 1249.0 L648.7 1243.4 L650.3 1237.5 L651.8 1231.3 L653.4 1224.9 L655.0 1218.3 L656.6 1211.4 L658.2 1204.3 L659.7 1197.0 L661.3 1189.5 L662.9 1181.9 L664.5 1174.2 L666.1 1166.3 L667.7 1158.3 L669.2 1150.2 L670.8 1142.0 L672.4 1133.7 L674.0 1125.3 L675.6 1116.9 L677.2 1108.4 L678.7 1099.8 L680.3 1091.2 L681.9 1082.6 L683.5 1073.9 L685.1 1065.3 L686.6 1056.6 L688.2 1047.9 L689.8 1039.3 L691.4 1030.6 L693.0 1022.0 L694.6 1013.4 L696.1 1004.9 L697.7 996.4 L699.3 988.0 L700.9 979.7 L702.5 971.5 L704.0 963.4 L705.6 955.5 L707.2 947.9 L708.8 940.4 L710.4 933.3 L712.0 926.5 L713.5 920.0 L715.1 913.8 L716.7 907.9 L718.3 902.2 L719.9 896.7 L721.4 891.4 L723.0 886.4 L724.6 881.6 L726.2 877.0 L727.8 872.8 L729.4 868.8 L730.9 865.1 L732.5 861.7 L734.1 858.5 L735.7 855.6 L737.3 852.9 L738.8 850.5 L740.4 848.4 L742.0 846.4 L743.6 844.8 L745.2 843.4 L746.8 842.2 L748.3 841.2 L749.9 840.5 L751.5 840.0 L753.1 839.7 L754.7 839.7 L756.2 839.9 L757.8 840.3 L759.4 840.9 L761.0 841.7 L762.6 842.7 L764.2 843.9 L765.7 845.3 L767.3 846.9 L768.9 848.7 L770.5 850.7 L772.1 852.9 L773.6 855.3 L775.2 857.8 L776.8 860.5 L778.4 863.3 L780.0 866.2 L781.6 869.2 L783.1 872.3 L784.7 875.5 L786.3 878.7 L787.9 881.9 L789.5 885.2 L791.1 888.4 L792.6 891.7 L794.2 894.9 L795.8 898.1 L797.4 901.2 L799.0 904.3 L800.5 907.4 L802.1 910.5 L803.7 913.5 L805.3 916.5 L806.9 919.5 L808.5 922.4 L810.0 925.3 L811.6 928.2 L813.2 931.0 L814.8 933.8 L816.4 936.5 L817.9 939.2 L819.5 941.9 L821.1 944.6 L822.7 947.2 L824.3 949.7 L825.9 952.2 L827.4 954.7 L829.0 957.2 L830.6 959.6" fill="none" stroke="#000" stroke-width="2.5" stroke-linejoin="round" clip-path="url(#cp)"/>
<g stroke="#000" stroke-width="2.3" fill="none" stroke-linecap="butt">
<path d="M199.4 108.2 V1339.6"/>
<path d="M199.4 109.4 H831.6"/>
<path d="M199.4 777.6 H831.6"/>
<path d="M199.4 1338.4 H831.6"/>
<path d="M830.6 109.4 V1338.4" stroke-width="2.0"/>
<path d="M189.9 777.6 H199.4"/>
<path d="M193.9 694.1 H199.4"/>
<path d="M189.9 610.5 H199.4"/>
<path d="M193.9 527.0 H199.4"/>
<path d="M189.9 443.5 H199.4"/>
<path d="M193.9 360.0 H199.4"/>
<path d="M189.9 276.4 H199.4"/>
<path d="M193.9 192.9 H199.4"/>
<path d="M189.9 109.4 H199.4"/>
<path d="M193.9 807.2 H199.4"/>
<path d="M189.9 866.2 H199.4"/>
<path d="M193.9 925.2 H199.4"/>
<path d="M189.9 984.2 H199.4"/>
<path d="M193.9 1043.2 H199.4"/>
<path d="M189.9 1102.2 H199.4"/>
<path d="M193.9 1161.2 H199.4"/>
<path d="M189.9 1220.2 H199.4"/>
<path d="M189.9 1338.4 H199.4"/>
<path d="M199.4 1338.4 V1350.4"/>
<path d="M238.9 777.6 V784.6"/>
<path d="M238.9 1338.4 V1345.4"/>
<path d="M278.3 777.6 V789.6"/>
<path d="M278.3 1338.4 V1350.4"/>
<path d="M317.8 777.6 V784.6"/>
<path d="M317.8 1338.4 V1345.4"/>
<path d="M357.2 777.6 V789.6"/>
<path d="M357.2 1338.4 V1350.4"/>
<path d="M396.6 777.6 V784.6"/>
<path d="M396.6 1338.4 V1345.4"/>
<path d="M436.1 777.6 V789.6"/>
<path d="M436.1 1338.4 V1350.4"/>
<path d="M475.6 777.6 V784.6"/>
<path d="M475.6 1338.4 V1345.4"/>
<path d="M515.0 777.6 V789.6"/>
<path d="M515.0 1338.4 V1350.4"/>
<path d="M554.5 777.6 V784.6"/>
<path d="M554.5 1338.4 V1345.4"/>
<path d="M593.9 777.6 V789.6"/>
<path d="M593.9 1338.4 V1350.4"/>
<path d="M633.4 777.6 V784.6"/>
<path d="M633.4 1338.4 V1345.4"/>
<path d="M672.8 777.6 V789.6"/>
<path d="M672.8 1338.4 V1350.4"/>
<path d="M712.2 777.6 V784.6"/>
<path d="M712.2 1338.4 V1345.4"/>
<path d="M751.7 777.6 V789.6"/>
<path d="M751.7 1338.4 V1350.4"/>
<path d="M791.1 777.6 V784.6"/>
<path d="M791.1 1338.4 V1345.4"/>
<path d="M830.6 1338.4 V1350.4"/>
</g>
<line x1="262.5" x2="262.5" y1="606" y2="721" stroke="#000" stroke-width="2.4" stroke-linecap="round"/>
<path d="M262.5 579 L274.2 606.8 H250.8 Z" fill="#000" stroke="#000" stroke-width="2" stroke-linejoin="round"/>
<line x1="217.6" x2="278" y1="1271.5" y2="1271.5" stroke="#000" stroke-width="2.8"/>
<g font-family="Liberation Sans, Arial, sans-serif" stroke-width="0.55" stroke-linejoin="round">
<text transform="translate(524.50 44.50) scale(0.8250 1)" font-size="32.00" text-anchor="middle" fill="#000" stroke="#000" font-weight="normal" >WMS-2f Reference Signal Stability</text>
<text transform="translate(519.50 82.50) scale(0.8250 1)" font-size="32.00" text-anchor="middle" fill="#000" stroke="#000" font-weight="normal" >at 750 ppmV</text>
<text transform="translate(738.00 62.00) scale(0.8000 1)" font-size="39.00" text-anchor="start" fill="#000" stroke="#000" font-weight="normal" >/ V</text>
<text transform="translate(776.00 74.50) scale(0.8600 1)" font-size="20.50" text-anchor="start" fill="#000" stroke="#000" font-weight="normal" >rms</text>
<text transform="translate(184.50 787.60) scale(0.8350 1)" font-size="31.50" text-anchor="end" fill="#000" stroke="#000" font-weight="normal" >0</text>
<text transform="translate(184.50 620.55) scale(0.8350 1)" font-size="31.50" text-anchor="end" fill="#000" stroke="#000" font-weight="normal" >15</text>
<text transform="translate(184.50 453.50) scale(0.8350 1)" font-size="31.50" text-anchor="end" fill="#000" stroke="#000" font-weight="normal" >30</text>
<text transform="translate(184.50 286.45) scale(0.8350 1)" font-size="31.50" text-anchor="end" fill="#000" stroke="#000" font-weight="normal" >45</text>
<text transform="translate(184.50 119.40) scale(0.8350 1)" font-size="31.50" text-anchor="end" fill="#000" stroke="#000" font-weight="normal" >60</text>
<text transform="translate(184.50 879.45) scale(0.8350 1)" font-size="31.50" text-anchor="end" fill="#000" stroke="#000" font-weight="normal" >4.0x10<tspan font-size="19.50" dy="-13.50">-3</tspan></text>
<text transform="translate(184.50 1115.45) scale(0.8350 1)" font-size="31.50" text-anchor="end" fill="#000" stroke="#000" font-weight="normal" >-4.0x10<tspan font-size="19.50" dy="-13.50">-3</tspan></text>
<text transform="translate(184.50 1233.45) scale(0.8350 1)" font-size="31.50" text-anchor="end" fill="#000" stroke="#000" font-weight="normal" >-8.0x10<tspan font-size="19.50" dy="-13.50">-3</tspan></text>
<text transform="translate(184.50 1351.45) scale(0.8350 1)" font-size="31.50" text-anchor="end" fill="#000" stroke="#000" font-weight="normal" >-1.2x10<tspan font-size="19.50" dy="-13.50">-2</tspan></text>
<text transform="translate(184.50 995.05) scale(0.8200 1)" font-size="31.50" text-anchor="end" fill="#000" stroke="#000" font-weight="normal" >0.0</text>
<text transform="translate(199.40 1381.70) scale(0.8030 1)" font-size="32.20" text-anchor="middle" fill="#000" stroke="#000" font-weight="normal" >0.0</text>
<text transform="translate(278.30 1381.70) scale(0.8030 1)" font-size="32.20" text-anchor="middle" fill="#000" stroke="#000" font-weight="normal" >0.2</text>
<text transform="translate(357.20 1381.70) scale(0.8030 1)" font-size="32.20" text-anchor="middle" fill="#000" stroke="#000" font-weight="normal" >0.4</text>
<text transform="translate(436.10 1381.70) scale(0.8030 1)" font-size="32.20" text-anchor="middle" fill="#000" stroke="#000" font-weight="normal" >0.6</text>
<text transform="translate(515.00 1381.70) scale(0.8030 1)" font-size="32.20" text-anchor="middle" fill="#000" stroke="#000" font-weight="normal" >0.8</text>
<text transform="translate(593.90 1381.70) scale(0.8030 1)" font-size="32.20" text-anchor="middle" fill="#000" stroke="#000" font-weight="normal" >1.0</text>
<text transform="translate(672.80 1381.70) scale(0.8030 1)" font-size="32.20" text-anchor="middle" fill="#000" stroke="#000" font-weight="normal" >1.2</text>
<text transform="translate(751.70 1381.70) scale(0.8030 1)" font-size="32.20" text-anchor="middle" fill="#000" stroke="#000" font-weight="normal" >1.4</text>
<text transform="translate(830.60 1381.70) scale(0.8030 1)" font-size="32.20" text-anchor="middle" fill="#000" stroke="#000" font-weight="normal" >1.6</text>
<text transform="translate(515.00 1436.00) scale(0.8200 1)" font-size="32.00" text-anchor="middle" fill="#000" stroke="#000" font-weight="normal" >scan time / ms</text>
<text transform="translate(272.50 689.00) scale(0.8200 1)" font-size="32.00" text-anchor="start" fill="#000" stroke="#000" font-weight="normal" >time</text>
<text transform="translate(629.60 823.80) scale(0.8460 1)" font-size="30.60" text-anchor="start" fill="#ff0000" stroke="#ff0000" font-weight="normal" >Peak Signal</text>
<text transform="translate(285.00 1282.00) scale(0.8290 1)" font-size="31.50" text-anchor="start" fill="#000" stroke="#000" font-weight="normal" >single scan at 750 ppmV</text>
<text transform="translate(83.60 464.40) rotate(-90) scale(1.1650 1)" font-size="27.40" text-anchor="middle" fill="#000" stroke="#000" font-weight="normal" stroke-width="0">measurement time / min</text>
<text transform="translate(40.80 1080.00) rotate(-90) scale(1.1650 1)" font-size="27.40" text-anchor="middle" fill="#000" stroke="#000" font-weight="normal" stroke-width="0">WMS-2f Signal / a. u.</text>
<text transform="translate(919.50 128.10) scale(0.8600 1)" font-size="24.20" text-anchor="start" fill="#000" stroke="#000" font-weight="bold" stroke-width="0.35">-1.1x10<tspan font-size="17.00" dy="-11.50">-2</tspan></text>
<text transform="translate(919.50 172.29) scale(0.8600 1)" font-size="24.20" text-anchor="start" fill="#000" stroke="#000" font-weight="bold" stroke-width="0.35">-9.8x10<tspan font-size="17.00" dy="-11.50">-3</tspan></text>
<text transform="translate(919.50 216.48) scale(0.8600 1)" font-size="24.20" text-anchor="start" fill="#000" stroke="#000" font-weight="bold" stroke-width="0.35">-8.7x10<tspan font-size="17.00" dy="-11.50">-3</tspan></text>
<text transform="translate(919.50 260.67) scale(0.8600 1)" font-size="24.20" text-anchor="start" fill="#000" stroke="#000" font-weight="bold" stroke-width="0.35">-7.6x10<tspan font-size="17.00" dy="-11.50">-3</tspan></text>
<text transform="translate(919.50 304.86) scale(0.8600 1)" font-size="24.20" text-anchor="start" fill="#000" stroke="#000" font-weight="bold" stroke-width="0.35">-6.5x10<tspan font-size="17.00" dy="-11.50">-3</tspan></text>
<text transform="translate(919.50 349.05) scale(0.8600 1)" font-size="24.20" text-anchor="start" fill="#000" stroke="#000" font-weight="bold" stroke-width="0.35">-5.4x10<tspan font-size="17.00" dy="-11.50">-3</tspan></text>
<text transform="translate(919.50 393.24) scale(0.8600 1)" font-size="24.20" text-anchor="start" fill="#000" stroke="#000" font-weight="bold" stroke-width="0.35">-4.3x10<tspan font-size="17.00" dy="-11.50">-3</tspan></text>
<text transform="translate(919.50 437.43) scale(0.8600 1)" font-size="24.20" text-anchor="start" fill="#000" stroke="#000" font-weight="bold" stroke-width="0.35">-3.2x10<tspan font-size="17.00" dy="-11.50">-3</tspan></text>
<text transform="translate(919.50 481.62) scale(0.8600 1)" font-size="24.20" text-anchor="start" fill="#000" stroke="#000" font-weight="bold" stroke-width="0.35">-2.1x10<tspan font-size="17.00" dy="-11.50">-3</tspan></text>
<text transform="translate(919.50 525.81) scale(0.8600 1)" font-size="24.20" text-anchor="start" fill="#000" stroke="#000" font-weight="bold" stroke-width="0.35">-1.0x10<tspan font-size="17.00" dy="-11.50">-3</tspan></text>
<text transform="translate(919.50 570.00) scale(0.8600 1)" font-size="24.20" text-anchor="start" fill="#000" stroke="#000" font-weight="bold" stroke-width="0.35">8.3x10<tspan font-size="17.00" dy="-11.50">-5</tspan></text>
<text transform="translate(919.50 614.19) scale(0.8600 1)" font-size="24.20" text-anchor="start" fill="#000" stroke="#000" font-weight="bold" stroke-width="0.35">1.2x10<tspan font-size="17.00" dy="-11.50">-3</tspan></text>
<text transform="translate(919.50 658.38) scale(0.8600 1)" font-size="24.20" text-anchor="start" fill="#000" stroke="#000" font-weight="bold" stroke-width="0.35">2.3x10<tspan font-size="17.00" dy="-11.50">-3</tspan></text>
<text transform="translate(919.50 702.57) scale(0.8600 1)" font-size="24.20" text-anchor="start" fill="#000" stroke="#000" font-weight="bold" stroke-width="0.35">3.4x10<tspan font-size="17.00" dy="-11.50">-3</tspan></text>
<text transform="translate(919.50 746.76) scale(0.8600 1)" font-size="24.20" text-anchor="start" fill="#000" stroke="#000" font-weight="bold" stroke-width="0.35">4.5x10<tspan font-size="17.00" dy="-11.50">-3</tspan></text>
<text transform="translate(919.50 790.95) scale(0.8600 1)" font-size="24.20" text-anchor="start" fill="#000" stroke="#000" font-weight="bold" stroke-width="0.35">5.5x10<tspan font-size="17.00" dy="-11.50">-3</tspan></text>
</g>
</svg>
</body></html>
